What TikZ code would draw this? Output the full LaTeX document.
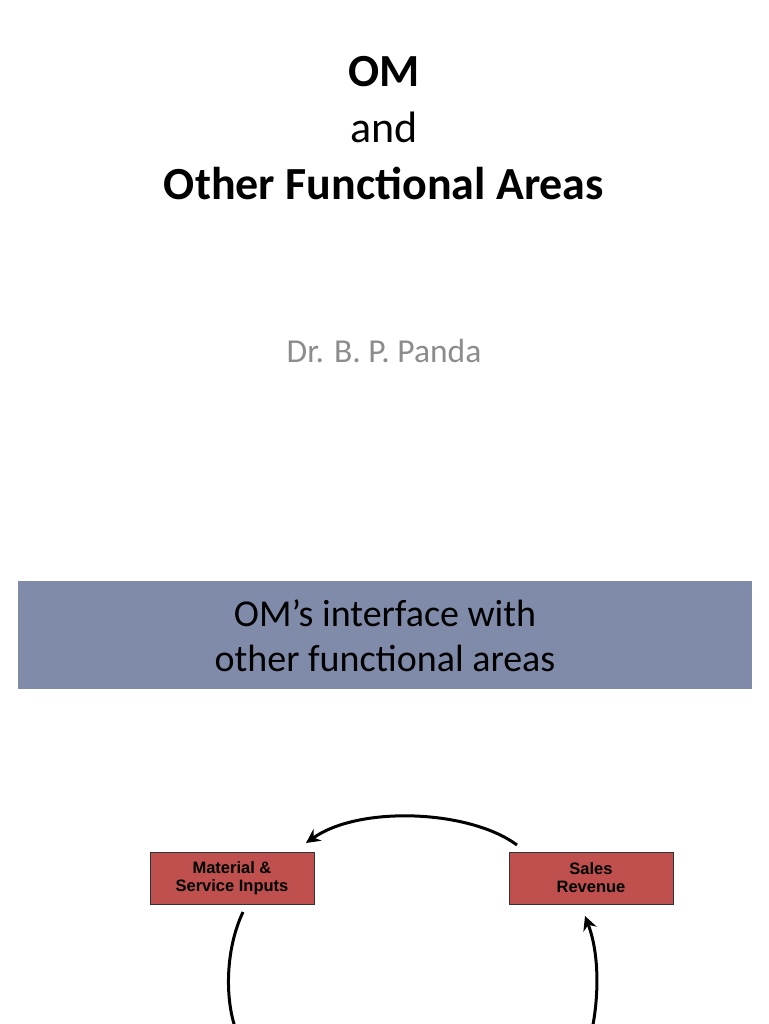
\documentclass[tikz,border=0pt]{standalone}
\usepackage{fontspec}
\setmainfont{Carlito}
\newfontfamily\arialfont{Liberation Sans}
\usetikzlibrary{arrows.meta}
\definecolor{bandblue}{HTML}{7F8BA9}
\definecolor{boxred}{HTML}{C0504D}
\tikzset{
 redbox/.style={draw=black!80, line width=0.6pt, fill=boxred, minimum width=164pt, minimum height=52pt, align=center, font=\arialfont\bfseries\fontsize{16.5}{18}\selectfont, inner sep=0pt},
 flow/.style={line width=3pt, -{Stealth[length=14pt,width=14pt]}}
}
\begin{document}
\begin{tikzpicture}[x=1pt,y=-1pt]
\useasboundingbox (0,0) rectangle (768,1024);
\clip (0,0) rectangle (768,1024);
\node[font=\fontsize{46}{50}\selectfont\bfseries] (om) at (384,72) {OM};
\node[font=\fontsize{44}{50}\selectfont] (and) at (384,127) {and};
\node[font=\fontsize{46}{50}\selectfont\bfseries] (ofa) at (384,183) {Other Functional Areas};
\node[font=\fontsize{33.5}{38}\selectfont, text=black!45] (dr) at (384,351) {Dr. B. P. Panda};
\fill[bandblue] (18,581) rectangle (752,689);
\node[align=center, font=\fontsize{38}{45}\selectfont] (band) at (385,636) {OM’s interface with\\other functional areas};
\node[redbox] (mat) at (232,878) {Material \&\\Service Inputs};
\node[redbox] (sales) at (591,878) {Sales\\Revenue};
\coordinate (c1) at (517,845);
\coordinate (c2) at (306,843);
\draw[flow] (c1) .. controls (470,810) and (360,805) .. (c2);
\coordinate (r0) at (592,1030);
\coordinate (r1) at (585,916);
\draw[flow] (r0) .. controls (600,990) and (598,950) .. (r1);
\coordinate (l0) at (243,912);
\coordinate (l1) at (236,1030);
\draw[line width=3pt] (l0) .. controls (225,950) and (225,1000) .. (l1);
\end{tikzpicture}
\end{document}
